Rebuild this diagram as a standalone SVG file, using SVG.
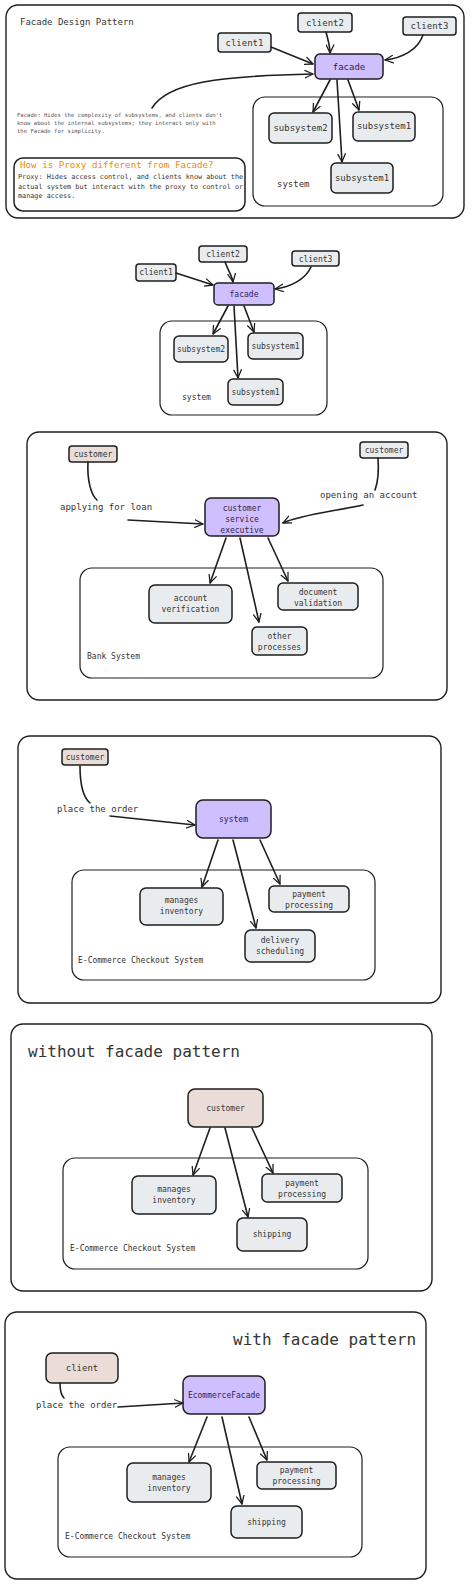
<svg xmlns="http://www.w3.org/2000/svg" width="474" height="1584" viewBox="0 0 474 1584">
<defs>
<marker id="ah" viewBox="0 0 10 10" refX="9.5" refY="5" markerWidth="9" markerHeight="9" markerUnits="userSpaceOnUse" orient="auto">
<path d="M0.5,0.8 L9.5,5 L0.5,9.2" fill="none" stroke="#1e1e1e" stroke-width="1.4" stroke-linecap="round" stroke-linejoin="round"/>
</marker>
<style>
text{font-family:"DejaVu Sans Mono","Liberation Mono",monospace;fill:#343434}
.frame{fill:#fff;stroke:#1e1e1e;stroke-width:1.4}
.cont{fill:#fff;stroke:#1e1e1e;stroke-width:1.2}
.g{fill:#e9ecef;stroke:#1e1e1e;stroke-width:1.5}
.p{fill:#d0bfff;stroke:#1e1e1e;stroke-width:1.5}
.k{fill:#eaddd7;stroke:#1e1e1e;stroke-width:1.5}
.c{text-anchor:middle}
.pt{fill:#2f2452}
.a{fill:none;stroke:#1e1e1e;stroke-width:1.6;stroke-linecap:round;marker-end:url(#ah)}
.l{fill:none;stroke:#1e1e1e;stroke-width:1.6;stroke-linecap:round}
.s8{font-size:8px}
.s9{font-size:9px}
.s16{font-size:16px}
</style>
</defs>
<rect width="474" height="1584" fill="#fff"/>

<!-- Section 1 -->
<g id="frame1">
<rect class="frame" x="6" y="5" width="458" height="213" rx="12"/>
<text class="s9" x="20" y="25">Facade Design Pattern</text>
</g>
<g id="s1-system"><rect class="cont" x="253" y="97" width="190" height="109" rx="12"/><text class="s9" x="277" y="187">system</text></g>
<g id="s1-client1"><rect class="g" x="218" y="33" width="53" height="19" rx="3"/><text class="s9 c" x="244.5" y="45.5">client1</text></g>
<g id="s1-client2"><rect class="g" x="298" y="13" width="54" height="19" rx="3"/><text class="s9 c" x="325" y="25.5">client2</text></g>
<g id="s1-client3"><rect class="g" x="403" y="17" width="53" height="18" rx="3"/><text class="s9 c" x="429.5" y="29">client3</text></g>
<g id="s1-facade"><rect class="p" x="315" y="54" width="68" height="25" rx="5"/><text class="s9 c pt" x="349" y="69.5">facade</text></g>
<g id="s1-sub2"><rect class="g" x="269" y="113" width="63" height="30" rx="5"/><text class="s9 c" x="300.5" y="131">subsystem2</text></g>
<g id="s1-sub1r"><rect class="g" x="353" y="112" width="62" height="29" rx="5"/><text class="s9 c" x="384" y="129">subsystem1</text></g>
<g id="s1-sub1b"><rect class="g" x="331" y="163" width="62" height="30" rx="5"/><text class="s9 c" x="362" y="181">subsystem1</text></g>
<g id="s1-desc" font-size="5.6px">
<text x="17" y="117" style="fill:#555">Facade: Hides the complexity of subsystems, and clients don't</text>
<text x="17" y="125" style="fill:#555">know about the internal subsystems; they interact only with</text>
<text x="17" y="133" style="fill:#555">the Facade for simplicity.</text>
</g>
<g id="s1-proxy">
<rect x="14" y="158" width="231" height="53" rx="9" fill="#fff" stroke="#1e1e1e" stroke-width="1.5"/>
<text x="20" y="168" font-size="9.2px" style="fill:#f08c00">How is Proxy different from Facade?</text>
<text x="18" y="179" font-size="6.8px">Proxy: Hides access control, and clients know about the</text>
<text x="18" y="188.5" font-size="6.8px">actual system but interact with the proxy to control or</text>
<text x="18" y="198" font-size="6.8px">manage access.</text>
</g>

<!-- Section 2 -->
<g id="s2-system"><rect class="cont" x="160" y="321" width="167" height="94" rx="12"/><text class="s8" x="182" y="400">system</text></g>
<g id="s2-client1"><rect class="g" x="136" y="264" width="40" height="17" rx="3"/><text class="s8 c" x="156" y="275">client1</text></g>
<g id="s2-client2"><rect class="g" x="199" y="246" width="48" height="16" rx="3"/><text class="s8 c" x="223" y="257">client2</text></g>
<g id="s2-client3"><rect class="g" x="292" y="251" width="47" height="15" rx="3"/><text class="s8 c" x="315.5" y="261.5">client3</text></g>
<g id="s2-facade"><rect class="p" x="214" y="283" width="60" height="22" rx="4"/><text class="s8 c pt" x="244" y="296.5">facade</text></g>
<g id="s2-sub2"><rect class="g" x="174" y="336" width="54" height="26" rx="5"/><text class="s8 c" x="201" y="351.5">subsystem2</text></g>
<g id="s2-sub1r"><rect class="g" x="248" y="333" width="55" height="26" rx="5"/><text class="s8 c" x="275.5" y="348.5">subsystem1</text></g>
<g id="s2-sub1b"><rect class="g" x="228" y="379" width="55" height="26" rx="5"/><text class="s8 c" x="255.5" y="394.5">subsystem1</text></g>

<!-- Section 3 -->
<g id="frame3"><rect class="frame" x="27" y="432" width="420" height="268" rx="12"/></g>
<g id="s3-bank"><rect class="cont" x="80" y="568" width="303" height="110" rx="12"/><text class="s8" x="87" y="659">Bank System</text></g>
<g id="s3-custL"><rect class="k" x="69" y="446" width="48" height="16" rx="3"/><text class="s8 c" x="93" y="457">customer</text></g>
<g id="s3-custR"><rect class="g" x="360" y="442" width="48" height="16" rx="3"/><text class="s8 c" x="384" y="453">customer</text></g>
<g id="s3-labels">
<text class="s9" x="60" y="510">applying for loan</text>
<text class="s9" x="320" y="498">opening an account</text>
</g>
<g id="s3-cse"><rect class="p" x="205" y="498" width="74" height="38" rx="6"/>
<text class="s8 c pt" x="242" y="511">customer</text><text class="s8 c pt" x="242" y="522">service</text><text class="s8 c pt" x="242" y="533">executive</text></g>
<g id="s3-acc"><rect class="g" x="149" y="585" width="83" height="38" rx="6"/><text class="s8 c" x="190.5" y="601">account</text><text class="s8 c" x="190.5" y="612">verification</text></g>
<g id="s3-doc"><rect class="g" x="278" y="583" width="80" height="27" rx="5"/><text class="s8 c" x="318" y="594.5">document</text><text class="s8 c" x="318" y="605.5">validation</text></g>
<g id="s3-other"><rect class="g" x="252" y="627" width="55" height="28" rx="5"/><text class="s8 c" x="279.5" y="638.5">other</text><text class="s8 c" x="279.5" y="649.5">processes</text></g>

<!-- Section 4 -->
<g id="frame4"><rect class="frame" x="18" y="736" width="423" height="267" rx="12"/></g>
<g id="s4-cont"><rect class="cont" x="72" y="870" width="303" height="110" rx="12"/><text class="s8" x="78" y="963">E-Commerce Checkout System</text></g>
<g id="s4-cust"><rect class="k" x="62" y="749" width="46" height="16" rx="3"/><text class="s8 c" x="85" y="760">customer</text></g>
<g id="s4-label"><text class="s9" x="57" y="812">place the order</text></g>
<g id="s4-system"><rect class="p" x="196" y="800" width="75" height="38" rx="7"/><text class="s8 c pt" x="233.5" y="822">system</text></g>
<g id="s4-inv"><rect class="g" x="140" y="888" width="83" height="37" rx="6"/><text class="s8 c" x="181.5" y="903">manages</text><text class="s8 c" x="181.5" y="914">inventory</text></g>
<g id="s4-pay"><rect class="g" x="269" y="886" width="80" height="26" rx="5"/><text class="s8 c" x="309" y="896.5">payment</text><text class="s8 c" x="309" y="907.5">processing</text></g>
<g id="s4-del"><rect class="g" x="245" y="930" width="70" height="32" rx="6"/><text class="s8 c" x="280" y="943">delivery</text><text class="s8 c" x="280" y="954">scheduling</text></g>

<!-- Section 5 -->
<g id="frame5"><rect class="frame" x="11" y="1024" width="421" height="267" rx="12"/><text class="s16" x="28" y="1057">without facade pattern</text></g>
<g id="s5-cont"><rect class="cont" x="63" y="1158" width="305" height="111" rx="12"/><text class="s8" x="70" y="1251">E-Commerce Checkout System</text></g>
<g id="s5-cust"><rect class="k" x="188" y="1089" width="75" height="38" rx="7"/><text class="s8 c" x="225.5" y="1110.5">customer</text></g>
<g id="s5-inv"><rect class="g" x="132" y="1176" width="84" height="38" rx="6"/><text class="s8 c" x="174" y="1191.5">manages</text><text class="s8 c" x="174" y="1202.5">inventory</text></g>
<g id="s5-pay"><rect class="g" x="262" y="1174" width="80" height="28" rx="5"/><text class="s8 c" x="302" y="1185.5">payment</text><text class="s8 c" x="302" y="1196.5">processing</text></g>
<g id="s5-ship"><rect class="g" x="237" y="1218" width="70" height="33" rx="6"/><text class="s8 c" x="272" y="1237">shipping</text></g>

<!-- Section 6 -->
<g id="frame6"><rect class="frame" x="5" y="1312" width="421" height="267" rx="12"/><text class="s16" x="233" y="1345">with facade pattern</text></g>
<g id="s6-cont"><rect class="cont" x="58" y="1447" width="304" height="110" rx="12"/><text class="s8" x="65" y="1539">E-Commerce Checkout System</text></g>
<g id="s6-client"><rect class="k" x="46" y="1353" width="72" height="30" rx="6"/><text class="s9 c" x="82" y="1371">client</text></g>
<g id="s6-label"><text class="s9" x="36" y="1408">place the order</text></g>
<g id="s6-facade"><rect class="p" x="183" y="1376" width="82" height="38" rx="7"/><text class="s8 c pt" x="224" y="1398">EcommerceFacade</text></g>
<g id="s6-inv"><rect class="g" x="127" y="1463" width="84" height="39" rx="6"/><text class="s8 c" x="169" y="1480">manages</text><text class="s8 c" x="169" y="1491">inventory</text></g>
<g id="s6-pay"><rect class="g" x="257" y="1462" width="79" height="27" rx="5"/><text class="s8 c" x="296.5" y="1472.5">payment</text><text class="s8 c" x="296.5" y="1483.5">processing</text></g>
<g id="s6-ship"><rect class="g" x="231" y="1506" width="71" height="32" rx="6"/><text class="s8 c" x="266.5" y="1524.5">shipping</text></g>

<!-- Connectors -->
<g id="connectors">
<path class="a" d="M152,108 C168,82 220,76 313,74"/>
<path class="a" d="M271,47 L313,64"/>
<path class="a" d="M326,32 C328,40 330,46 330,53"/>
<path class="a" d="M423,35 C418,50 402,58 385,60"/>
<path class="a" d="M330,80 L313,112"/>
<path class="a" d="M337,80 L342,162"/>
<path class="a" d="M348,80 L359,110"/>

<path class="a" d="M176,273 L213,285"/>
<path class="a" d="M225,262 C228,270 232,276 233,282"/>
<path class="a" d="M311,267 C305,280 290,287 275,289"/>
<path class="a" d="M228,306 L213,334"/>
<path class="a" d="M234,306 L238,378"/>
<path class="a" d="M244,306 L254,332"/>

<path class="l" d="M88,462 C87,480 91,495 97,500"/>
<path class="l" d="M378,458 C379,472 378,482 375,490"/>
<path class="a" d="M128,520 L203,524"/>
<path class="a" d="M363,505 C330,512 300,515 283,523"/>
<path class="a" d="M226,538 L210,583"/>
<path class="a" d="M240,538 L259,622"/>
<path class="a" d="M268,538 L288,581"/>

<path class="l" d="M80,766 C80,785 84,798 90,803"/>
<path class="a" d="M110,816 L195,825"/>
<path class="a" d="M218,840 L202,887"/>
<path class="a" d="M233,840 L256,928"/>
<path class="a" d="M260,840 L280,884"/>

<path class="a" d="M210,1128 L193,1175"/>
<path class="a" d="M225,1128 L248,1217"/>
<path class="a" d="M252,1128 L273,1173"/>

<path class="l" d="M60,1383 C60,1390 61,1395 64,1398"/>
<path class="a" d="M118,1407 L183,1403"/>
<path class="a" d="M207,1417 L189,1462"/>
<path class="a" d="M222,1417 L242,1504"/>
<path class="a" d="M249,1417 L267,1460"/>
</g>
</svg>
